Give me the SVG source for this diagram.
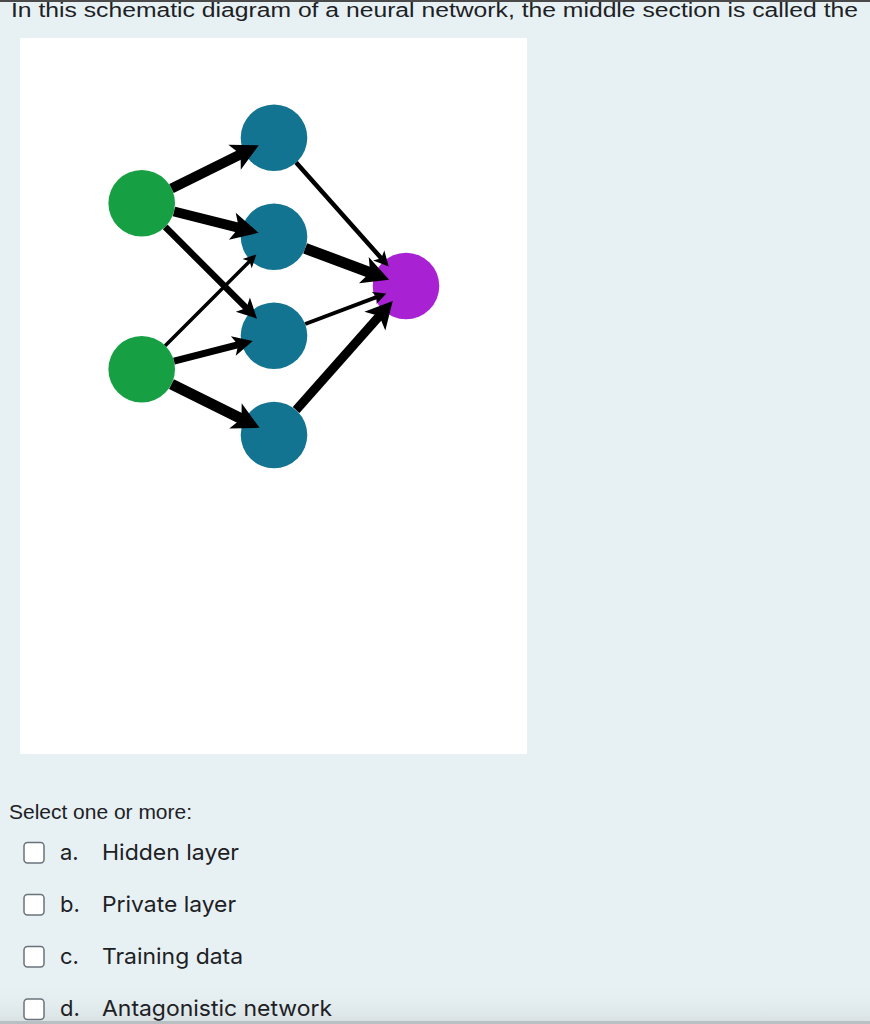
<svg xmlns="http://www.w3.org/2000/svg" width="870" height="1024" viewBox="0 0 870 1024">
<defs>
<style>
.txt{font-family:Inter,"Liberation Sans",Arial,sans-serif;fill:#1d2125}
.sel{font-family:"Liberation Sans",Arial,sans-serif;fill:#1d2125;font-size:21px}
.title{font-family:"Liberation Sans",Arial,sans-serif;font-size:20px;fill:#1d2125}
.edge{stroke:#000;fill:none;stroke-linecap:butt}
.box{fill:#fff;stroke:#6a737b;stroke-width:1.5}
.inp{fill:#16a043}
.hid{fill:#137491}
.out{fill:#a822d4}
</style>
<linearGradient id="shade" x1="0" y1="0" x2="0" y2="1">
<stop offset="0" stop-color="#e7f1f3" stop-opacity="0"/>
<stop offset="1" stop-color="#d9e1e3" stop-opacity="1"/>
</linearGradient>
<marker id="ahL" markerUnits="userSpaceOnUse" viewBox="0 -14 27 28" markerWidth="27" markerHeight="28" refX="10.2" refY="0" orient="auto" overflow="visible"><path d="M0,-14 L27,0 L0,14 L6.75,0 z" fill="#000"/></marker>
<marker id="ahM" markerUnits="userSpaceOnUse" viewBox="0 -10 20 20" markerWidth="20" markerHeight="20" refX="7.4" refY="0" orient="auto" overflow="visible"><path d="M0,-10 L20,0 L0,10 L5,0 z" fill="#000"/></marker>
<marker id="ahS2" markerUnits="userSpaceOnUse" viewBox="0 -7.5 15 15" markerWidth="15" markerHeight="15" refX="5.2" refY="0" orient="auto" overflow="visible"><path d="M0,-7.5 L15,0 L0,7.5 L3.75,0 z" fill="#000"/></marker>
<marker id="ahS" markerUnits="userSpaceOnUse" viewBox="0 -6.5 13 13" markerWidth="13" markerHeight="13" refX="4.6" refY="0" orient="auto" overflow="visible"><path d="M0,-6.5 L13,0 L0,6.5 L3.25,0 z" fill="#000"/></marker>
</defs>
<rect x="0" y="0" width="870" height="1024" fill="#e7f1f3"/>
<rect x="0" y="980" width="870" height="42" fill="url(#shade)"/>
<rect x="0" y="1021" width="870" height="3" fill="#b9c0c3"/>
<rect x="0" y="0" width="870" height="2" fill="#4a4a4a"/>
<text class="title" x="11" y="17" textLength="847" lengthAdjust="spacingAndGlyphs">In this schematic diagram of a neural network, the middle section is called the</text>
<rect x="20" y="38" width="507" height="716" fill="#fff"/>
<g id="nodes">
<circle id="in1" class="inp" cx="141.7" cy="203.3" r="33.3"/>
<circle id="in2" class="inp" cx="141.7" cy="369.3" r="33.3"/>
<circle id="h1" class="hid" cx="274" cy="137.7" r="33.3"/>
<circle id="h2" class="hid" cx="274" cy="236.7" r="33.3"/>
<circle id="h3" class="hid" cx="274" cy="335.7" r="33.3"/>
<circle id="h4" class="hid" cx="274" cy="435" r="33.3"/>
<circle id="out" class="out" cx="406" cy="286" r="33.3"/>
</g>
<g id="connectors">
<path class="edge" stroke-width="10" d="M171.5,188.5 L243.7,152.7" marker-end="url(#ahL)"/>
<path class="edge" stroke-width="10" d="M174,211.5 L242.2,228.7" marker-end="url(#ahL)"/>
<path class="edge" stroke-width="6.5" d="M165.2,226.9 L248.1,309.8" marker-end="url(#ahM)"/>
<path class="edge" stroke-width="3.5" d="M165.2,345.7 L250.4,260.4" marker-end="url(#ahS)"/>
<path class="edge" stroke-width="7" d="M174,361.1 L240.5,344.2" marker-end="url(#ahM)"/>
<path class="edge" stroke-width="11" d="M171.5,384.1 L244.6,420.4" marker-end="url(#ahL)"/>
<path class="edge" stroke-width="4.5" d="M296.1,162.6 L382.2,259.3" marker-end="url(#ahS2)"/>
<path class="edge" stroke-width="11" d="M305.2,248.4 L373.4,273.8" marker-end="url(#ahL)"/>
<path class="edge" stroke-width="4" d="M305.2,324 L378.5,296.4" marker-end="url(#ahS)"/>
<path class="edge" stroke-width="9" d="M296.1,410.1 L381.6,313.5" marker-end="url(#ahL)"/>
</g>
<text class="sel" x="9" y="819" textLength="183" lengthAdjust="spacingAndGlyphs">Select one or more:</text>
<g id="opt-a">
<rect class="box" x="24" y="842.5" width="20" height="20.5" rx="3.5"/>
<text class="txt" x="60" y="860" font-size="22">a.</text>
<text class="txt" x="102" y="860" font-size="22" textLength="137" lengthAdjust="spacingAndGlyphs">Hidden layer</text>
</g>
<g id="opt-b">
<rect class="box" x="24" y="894.5" width="20" height="20.5" rx="3.5"/>
<text class="txt" x="60" y="912" font-size="22">b.</text>
<text class="txt" x="102" y="912" font-size="22" textLength="134" lengthAdjust="spacingAndGlyphs">Private layer</text>
</g>
<g id="opt-c">
<rect class="box" x="24" y="946.5" width="20" height="20.5" rx="3.5"/>
<text class="txt" x="60" y="964" font-size="22">c.</text>
<text class="txt" x="102" y="964" font-size="22" textLength="141" lengthAdjust="spacingAndGlyphs">Training data</text>
</g>
<g id="opt-d">
<rect class="box" x="24" y="999" width="20" height="20.5" rx="3.5"/>
<text class="txt" x="60" y="1016" font-size="22">d.</text>
<text class="txt" x="102" y="1016" font-size="22" textLength="230" lengthAdjust="spacingAndGlyphs">Antagonistic network</text>
</g>
</svg>
